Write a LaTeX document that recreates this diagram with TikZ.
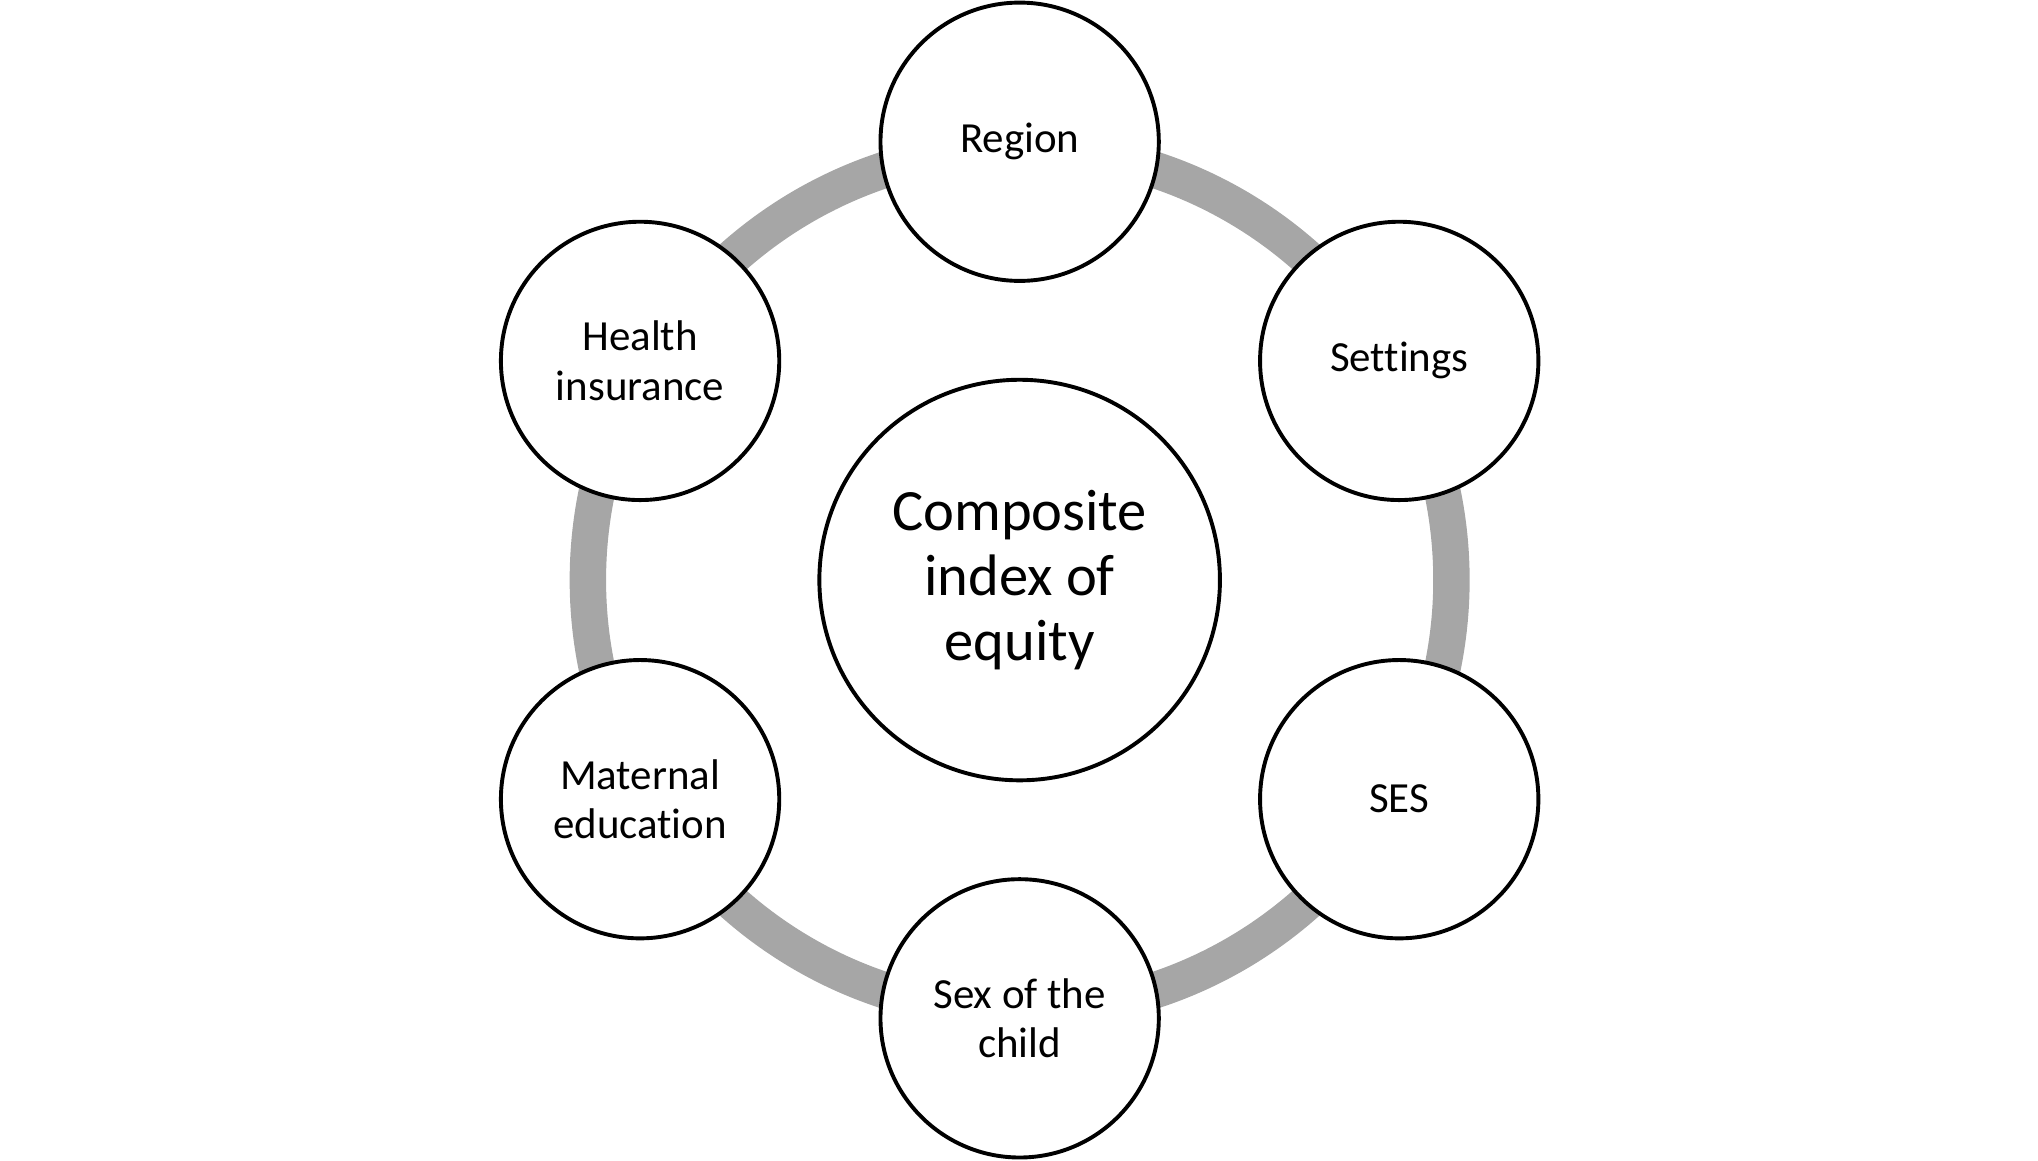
\documentclass[tikz,border=0pt]{standalone}
\usepackage{fontspec}
\setmainfont[RawFeature={-liga}]{Carlito}
\begin{document}
\begin{tikzpicture}[x=1pt,y=1pt,
  outer/.style={circle,draw=black,line width=3pt,fill=white,minimum size=214pt,inner sep=0pt,align=center,font=\fontsize{33}{38}\selectfont},
  inner/.style={circle,draw=black,line width=3pt,fill=white,minimum size=308pt,inner sep=0pt,align=center,font=\fontsize{45}{50}\selectfont}]
\useasboundingbox (0,0) rectangle (1567,892);
\coordinate (c) at (784,446);
\draw[color={rgb,255:red,166;green,166;blue,166},line width=28pt] (c) circle (332);
\node[inner] (ce) at (c) {Composite\\index of\\equity};
\node[outer] (r) at ([shift={(90:337)}]c) {Region};
\node[outer] (s) at ([shift={(30:337)}]c) {Settings};
\node[outer] (ses) at ([shift={(-30:337)}]c) {SES};
\node[outer] (sx) at ([shift={(-90:337)}]c) {Sex of the\\child};
\node[outer] (m) at ([shift={(-150:337)}]c) {Maternal\\education};
\node[outer] (h) at ([shift={(150:337)}]c) {Health\\insurance};
\end{tikzpicture}
\end{document}
